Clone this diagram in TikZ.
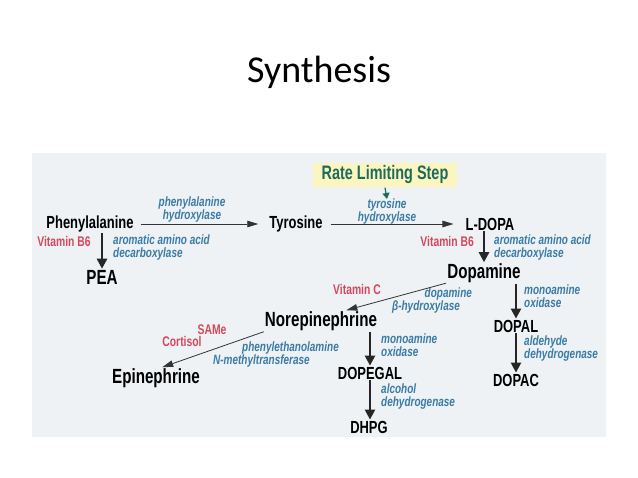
\documentclass[tikz,border=0pt]{standalone}
\usepackage{fontspec}
\setmainfont{Liberation Sans}
\newfontfamily\condfont[FakeStretch=0.74]{Liberation Sans}
\newfontfamily\titlefont{Carlito}
\usetikzlibrary{arrows.meta}
\definecolor{panelgrey}{HTML}{EEF2F5}
\definecolor{enzblue}{HTML}{3B7BA6}
\definecolor{cofred}{HTML}{D4485E}
\definecolor{stepgreen}{HTML}{1E6B5C}
\definecolor{stepyellow}{HTML}{FBF5C0}
\begin{document}
\begin{tikzpicture}[x=1pt, y=-1pt,
  met/.style={font=\condfont\bfseries\fontsize{17.5}{19}\selectfont, inner sep=1pt},
  big/.style={font=\condfont\bfseries\fontsize{20.5}{22}\selectfont, inner sep=1pt},
  enz/.style={font=\condfont\bfseries\itshape\fontsize{13.5}{13}\selectfont, text=enzblue, align=left, inner sep=0pt},
  cof/.style={font=\condfont\bfseries\fontsize{14}{14}\selectfont, text=cofred, inner sep=0pt},
  ha/.style={black!80, line width=0.8pt, -{Triangle[length=11pt,width=6.5pt]}},
  va/.style={black!85, line width=2.4pt, -{Triangle[length=10pt,width=10pt]}},
  ta/.style={stepgreen, line width=1.2pt, -{Triangle[length=6pt,width=7pt]}}]
\useasboundingbox (0,0) rectangle (638,478);
\fill[panelgrey] (32,153) rectangle (606,437);
\node[font=\titlefont\fontsize{38}{40}\selectfont] (title) at (319,72) {Synthesis};
% compounds
\node[fill=stepyellow, font=\condfont\bfseries\fontsize{19.5}{21}\selectfont, text=stepgreen,
  minimum width=144pt, minimum height=24pt] (rls) at (385,175) {Rate Limiting Step};
\node[met] (phe) at (90,224) {Phenylalanine};
\node[met] (tyr) at (296,224) {Tyrosine};
\node[met] (ldopa) at (490,224) {L-DOPA};
\node[big] (pea) at (102,277) {PEA};
\node[big] (dop) at (484,273) {Dopamine};
\node[big] (nor) at (321,321) {Norepinephrine};
\node[big] (epi) at (156,378) {Epinephrine};
\node[met] (dopal) at (516,326) {DOPAL};
\node[met] (dopegal) at (370,373) {DOPEGAL};
\node[met] (dopac) at (516,380) {DOPAC};
\node[met] (dhpg) at (369,427) {DHPG};
% enzymes
\node[enz, align=center] (pah) at (192,210) {phenylalanine\\hydroxylase};
\node[enz, align=center] (th) at (387,212) {tyrosine\\hydroxylase};
\node[enz, anchor=west] (aadc1) at (113,248) {aromatic amino acid\\decarboxylase};
\node[enz, anchor=west] (aadc2) at (494,248) {aromatic amino acid\\decarboxylase};
\node[enz, align=right] (dbh) at (432,301) {dopamine\\β-hydroxylase\hspace*{12pt}};
\node[enz, anchor=west] (mao1) at (524,296) {monoamine\\oxidase};
\node[enz, align=right] (pnmt) at (276,355) {phenylethanolamine\\N-methyltransferase\hspace*{29pt}};
\node[enz, anchor=west] (mao2) at (381,345) {monoamine\\oxidase};
\node[enz, anchor=west] (aldh) at (524,349) {aldehyde\\dehydrogenase};
\node[enz, anchor=west] (adh) at (381,397) {alcohol\\dehydrogenase};
% cofactors
\node[cof] (b6a) at (64,241) {Vitamin B6};
\node[cof, anchor=east] (b6b) at (474,241) {Vitamin B6};
\node[cof] (vitc) at (357,289) {Vitamin C};
\node[cof] (same) at (212,330) {SAMe};
\node[cof] (cort) at (182,341) {Cortisol};
% arrows
\draw[ta] (rls.south) -- (th.north);
\draw[ha, shorten <=6pt, shorten >=10pt] (phe.east) -- (tyr.west);
\draw[ha, shorten <=7pt, shorten >=11pt] (tyr.east) -- (ldopa.west);
\draw[va] (phe.south -| pea) -- (pea.north);
\draw[va] (ldopa.south -| dop) -- (dop.north);
\draw[va] (dop.south -| dopal) -- (dopal.north);
\draw[va] (dopal) -- (dopac);
\draw[va] (nor.south -| dopegal) -- (dopegal.north);
\draw[va] (dopegal.south) -- (dopegal.south |- dhpg.north);
\draw[ha] (dop.195) -- (nor.23);
\draw[ha] (nor.south west) -- (epi.60);
\end{tikzpicture}
\end{document}
